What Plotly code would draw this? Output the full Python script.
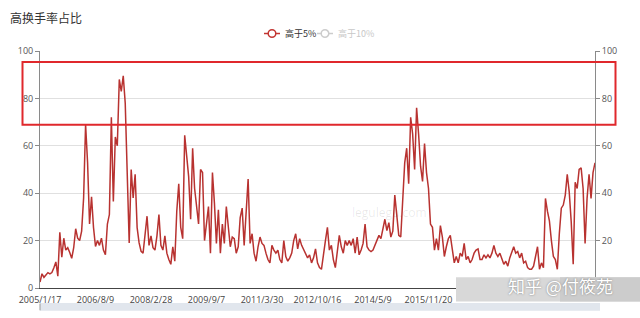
import plotly.graph_objects as go

# ---------------- data ----------------
title_text = "高换手率占比"
series_names = ["高于5%", "高于10%"]
# x labels that are visible in the picture (the later ones are under the watermark)
tick_labels = ["2005/1/17", "2006/8/9", "2008/2/28", "2009/9/7", "2011/3/30",
               "2012/10/16", "2014/5/9", "2015/11/20"]
points_per_label = 28
y_ticks_left = [0, 20, 40, 60, 80, 100]
y_ticks_right = [20, 40, 60, 80, 100]

share_above_5 = [
    2.5, 6, 4.5, 5.5, 6.5, 6, 6.5, 8.5, 11, 5,
    23.5, 13, 21, 16, 17, 15, 12.5, 17, 25, 21,
    20, 24, 38, 69, 53, 27, 38.5, 25.5, 17.5, 20,
    18, 21, 16, 14, 27, 31, 72, 36.5, 63.7, 60,
    88, 83, 89.5, 78, 42, 19, 50, 38, 48, 25.5,
    19, 15.5, 14.7, 23, 30.3, 18, 22, 17, 16, 22,
    31, 18, 16, 22, 14.7, 12, 10, 17.4, 11.3, 32.4,
    44, 25.6, 20.8, 64.4, 55.5, 47, 29, 59, 42, 33.7,
    27, 50, 48.7, 20, 27.6, 34.4, 14.7, 48.7, 35.8, 18.8,
    33, 14.7, 27, 18.8, 34.4, 27, 17.4, 21.5, 20.8, 14.7,
    17.4, 29.7, 33.7, 18, 34.4, 46, 18.8, 22.9, 14.7, 11.3,
    17.4, 21.5, 18.8, 18, 14.7, 12, 10.6, 18, 16, 14.7,
    16, 12, 10.6, 20, 13.3, 11.3, 12.7, 14.7, 20, 22.9,
    16.5, 20.8, 18, 16, 14.7, 12.7, 14, 10.6, 12.7, 16.5,
    10.6, 8.6, 7.9, 14.7, 20, 25.6, 16, 18, 12, 8.6,
    16, 22.2, 17.4, 14.7, 20, 18, 20, 18, 20.8, 14.7,
    21.5, 14, 16, 18.8, 27, 17.4, 16, 15.4, 16, 18,
    20, 22.2, 20.8, 25.6, 29, 24.2, 27.6, 21.5, 24, 39.2,
    30, 22.2, 21.5, 37.8, 52.8, 59, 44, 72, 65, 50,
    76, 65, 51.4, 45, 61, 48.7, 42, 27, 25.6, 16,
    20.8, 16, 26.3, 21.5, 13.3, 17.4, 20.8, 22.2, 15.4, 10.6,
    13.3, 10.6, 14.7, 13.3, 18.8, 12, 13.3, 10.6, 12, 14.7,
    16, 16.5, 12, 12, 14, 12.7, 14, 12.7, 14.7, 18,
    14.7, 13.3, 14.7, 12, 10, 11.3, 9.2, 12.7, 14.7, 17.4,
    14.7, 15.4, 12.7, 14.7, 10.6, 11.3, 8.6, 7.9, 7.9, 9.2,
    13.3, 17.4, 7.9, 10.6, 8.6, 37.8, 32.4, 28.3, 20, 13.3,
    12, 7.9, 22.9, 33.7, 35, 39.2, 48, 40.5, 28, 10,
    44.6, 42, 50, 50.7, 42, 18.8, 37.8, 48, 37.8, 48.7,
    52.8,
]

# ---------------- layout geometry ----------------
W, H = 640, 318
ML, MR, MT, MB = 40, 45, 51, 23
PW, PH = W - ML - MR, H - MT - MB


def px(x):
    return (x - ML) / PW


def py(y):
    return (H - MB - y) / PH


RED = "#c23531"
LINE = "#b83230"
n = len(share_above_5)
x_idx = list(range(n))
tickvals = [i * points_per_label for i in range(len(tick_labels))]

fig = go.Figure()
fig.add_trace(go.Scatter(x=x_idx, y=share_above_5, mode="lines",
                         line=dict(color=LINE, width=1.5),
                         name=series_names[0], showlegend=False,
                         hoverinfo="skip"))
fig.add_trace(go.Scatter(x=[None], y=[None], yaxis="y2", showlegend=False,
                         mode="lines", hoverinfo="skip"))

axis_font = dict(family="Open Sans, Noto Sans CJK SC", size=9, color="#555")

fig.update_layout(
    width=W, height=H, autosize=False,
    margin=dict(l=ML, r=MR, t=MT, b=MB, pad=0),
    paper_bgcolor="white", plot_bgcolor="white",
    showlegend=False,
    xaxis=dict(range=[0, n - 1], tickvals=tickvals, ticktext=tick_labels,
               showgrid=False, zeroline=False, showline=True,
               linecolor="#444", linewidth=1, ticks="outside", ticklen=3,
               tickcolor="rgba(0,0,0,0)",
               tickfont=dict(family="Open Sans, Noto Sans CJK SC", size=9, color="#444")),
    yaxis=dict(range=[0, 100], tickvals=y_ticks_left, showgrid=True,
               gridcolor="#e0e0e0", zeroline=False, showline=True,
               linecolor="#8a8a8a", ticks="outside", ticklen=4,
               tickcolor="#8a8a8a", tickfont=axis_font),
    yaxis2=dict(range=[0, 100], tickvals=y_ticks_right, overlaying="y", side="right",
                showgrid=False, zeroline=False, showline=True,
                linecolor="#8a8a8a", ticks="outside", ticklen=4,
                tickcolor="#8a8a8a", tickfont=axis_font),
)

shapes = []
# highlight box drawn on the screenshot
shapes.append(dict(type="rect", xref="paper", yref="y",
                   x0=px(22.5), x1=px(615.5), y0=68.9, y1=95.4,
                   line=dict(color="#e0282c", width=2), layer="above"))
# data-zoom slider strip at the bottom
shapes.append(dict(type="rect", xref="paper", yref="paper",
                   x0=px(40), x1=px(600), y0=py(318.5), y1=py(310.5),
                   fillcolor="#e1e6ed", line=dict(width=0), layer="above"))
shapes.append(dict(type="line", xref="paper", yref="paper",
                   x0=px(40), x1=px(40), y0=py(318), y1=py(311),
                   line=dict(color="#999", width=1), layer="above"))
# mosaic behind the site watermark
shapes.append(dict(type="rect", xref="paper", yref="paper",
                   x0=px(456), x1=px(641), y0=py(309), y1=py(284),
                   fillcolor="#d8d8d8", line=dict(width=0), layer="above"))
shapes.append(dict(type="rect", xref="paper", yref="paper",
                   x0=px(560), x1=px(641), y0=py(309), y1=py(284),
                   fillcolor="#cccccc", line=dict(width=0), layer="above"))

# legend (echarts style)
legend_items = [(272, series_names[0], RED, "#333"),
                (325, series_names[1], "#cccccc", "#c8c8c8")]
for cx, name, col, tcol in legend_items:
    shapes.append(dict(type="line", xref="paper", yref="paper",
                       x0=px(cx - 8), x1=px(cx + 8), y0=py(33), y1=py(33),
                       line=dict(color=col, width=1.5), layer="above"))
    shapes.append(dict(type="circle", xref="paper", yref="paper",
                       x0=px(cx - 3.8), x1=px(cx + 3.8), y0=py(36.8), y1=py(29.2),
                       fillcolor="white", line=dict(color=col, width=1.5), layer="above"))

annotations = [
    dict(text=title_text, xref="paper", yref="paper", x=px(8), y=py(16),
         xanchor="left", yanchor="middle", showarrow=False,
         font=dict(family="Noto Sans CJK SC", size=12, color="#333")),
    dict(text="legulegu.com", xref="paper", yref="paper", x=px(389), y=py(217),
         xanchor="center", yanchor="middle", showarrow=False,
         font=dict(family="Open Sans", size=12, color="rgba(0,0,0,0.09)")),
    dict(text="知乎 @付筱苑", xref="paper", yref="paper", x=px(560), y=py(292),
         xanchor="center", yanchor="middle", showarrow=False,
         font=dict(family="Noto Sans CJK SC", size=17, color="white",
                   shadow="0px 0px 2px #777")),
]
for cx, name, col, tcol in legend_items:
    annotations.append(dict(text=name, xref="paper", yref="paper", x=px(cx + 11),
                            y=py(33), xanchor="left", yanchor="middle", showarrow=False,
                            font=dict(family="Noto Sans CJK SC", size=9, color=tcol)))

fig.update_layout(shapes=shapes, annotations=annotations)
fig.write_html("out.html")
